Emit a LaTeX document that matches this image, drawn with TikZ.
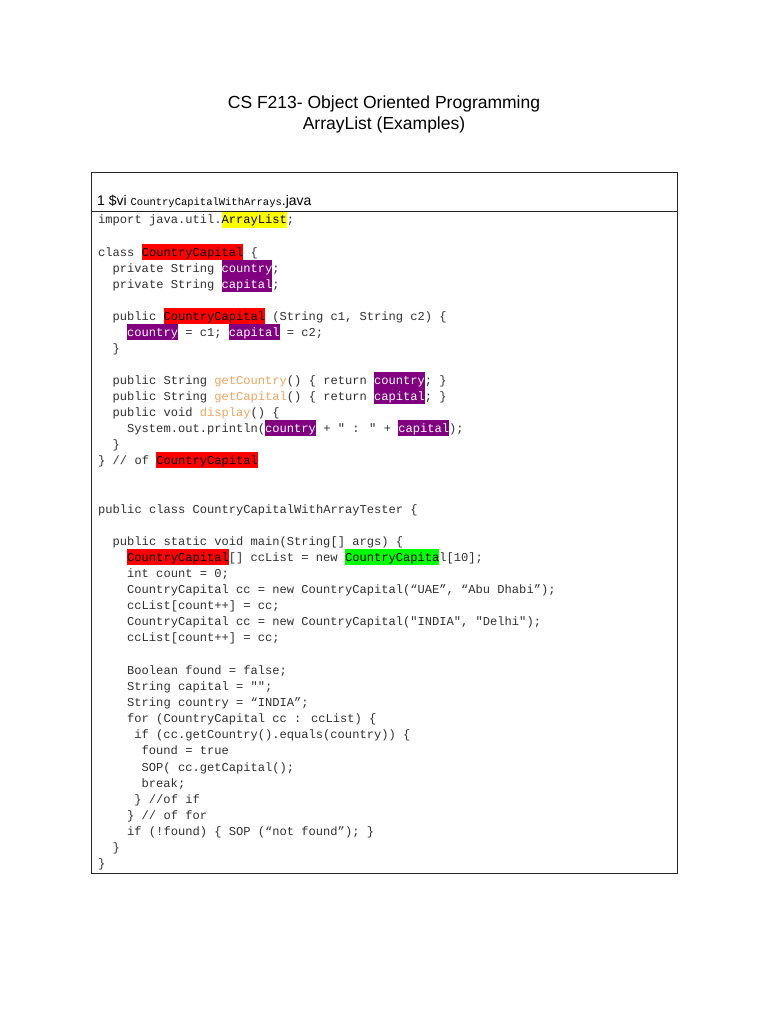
\documentclass[tikz,border=0pt]{standalone}
\usepackage{fontspec}
\setmainfont{Liberation Sans}
\newfontfamily\cmono{Liberation Mono}
\definecolor{hred}{HTML}{FF0000}
\definecolor{hpur}{HTML}{800080}
\definecolor{hgrn}{HTML}{00FF00}
\definecolor{hyel}{HTML}{FFFF00}
\definecolor{horg}{HTML}{F4A460}
\definecolor{txt}{HTML}{303030}
\newcommand{\hls}{\rule[-4.2pt]{0pt}{16pt}}
\newcommand{\hr}[1]{{\setlength\fboxsep{0pt}\colorbox{hred}{\hls\color{black}#1}}}
\newcommand{\hp}[1]{{\setlength\fboxsep{0pt}\colorbox{hpur}{\hls\color{white}#1}}}
\newcommand{\hg}[1]{{\setlength\fboxsep{0pt}\colorbox{hgrn}{\hls\color{black}#1}}}
\newcommand{\hy}[1]{{\setlength\fboxsep{0pt}\colorbox{hyel}{\hls\color{black}#1}}}
\newcommand{\ho}[1]{{\color{horg}#1}}
\begin{document}
\begin{tikzpicture}[x=1pt,y=-1pt,
  code/.style={anchor=base west,inner sep=0pt,font=\cmono\fontsize{12.1}{14}\selectfont,text=txt},
  ttl/.style={inner sep=0pt,font=\fontsize{17.5}{20}\selectfont,text=black}]
\useasboundingbox (0,0) rectangle (768,1024);
\fill[white] (0,0) rectangle (768,1024);
\node[ttl] (t1) at (384,104) {CS F213- Object Oriented Programming};
\node[ttl] (t2) at (384,125) {ArrayList (Examples)};
\draw[line width=1pt,black!85] (91,173) rectangle (677,873);
\draw[line width=1pt,black!85] (91,212) -- (677,212);
\node[anchor=base west,inner sep=0pt,font=\fontsize{14}{16}\selectfont] (hd) at (97,206)
  {1 \$vi {\cmono\fontsize{10.5}{12}\selectfont CountryCapitalWithArrays}.java};
\def\X{98}\def\I{7.25}
\foreach \n/\ind/\y/\t in {
 1/0/224/{import java.util.\hy{ArrayList};},
 2/0/256/{class \hr{CountryCapital} \{},
 3/2/272/{private String \hp{country};},
 4/2/288/{private String \hp{capital};},
 5/2/320/{public \hr{CountryCapital} (String c1, String c2) \{},
 6/4/336/{\hp{country} = c1; \hp{capital} = c2;},
 7/2/352/{\}},
 8/2/384/{public String \ho{getCountry}() \{ return \hp{country}; \}},
 9/2/400/{public String \ho{getCapital}() \{ return \hp{capital}; \}},
 10/2/416/{public void \ho{display}() \{},
 11/4/432/{System.out.println(\hp{country} + " : " + \hp{capital});},
 12/2/448/{\}},
 13/0/464/{\} // of \hr{CountryCapital}},
 14/0/513/{public class CountryCapitalWithArrayTester \{},
 15/2/545/{public static void main(String[] args) \{},
 16/4/561/{\hr{CountryCapital}[] ccList = new \hg{CountryCapita}l[10];},
 17/4/577/{int count = 0;},
 18/4/593/{CountryCapital cc = new CountryCapital(“UAE”, “Abu Dhabi”);},
 19/4/609/{ccList[count++] = cc;},
 20/4/625/{CountryCapital cc = new CountryCapital("INDIA", "Delhi");},
 21/4/641/{ccList[count++] = cc;},
 22/4/674/{Boolean found = false;},
 23/4/690/{String capital = "";},
 24/4/706/{String country = “INDIA”;},
 25/4/722/{for (CountryCapital cc : ccList) \{},
 26/5/738/{if (cc.getCountry().equals(country)) \{},
 27/6/754/{found = true},
 28/6/771/{SOP( cc.getCapital();},
 29/6/787/{break;},
 30/5/803/{\} //of if},
 31/4/819/{\} // of for},
 32/4/835/{if (!found) \{ SOP (“not found”); \}},
 33/2/851/{\}},
 34/0/867/{\}}}
  \node[code] (l\n) at ({\X+\ind*\I},\y) {\t};
\end{tikzpicture}
\end{document}
